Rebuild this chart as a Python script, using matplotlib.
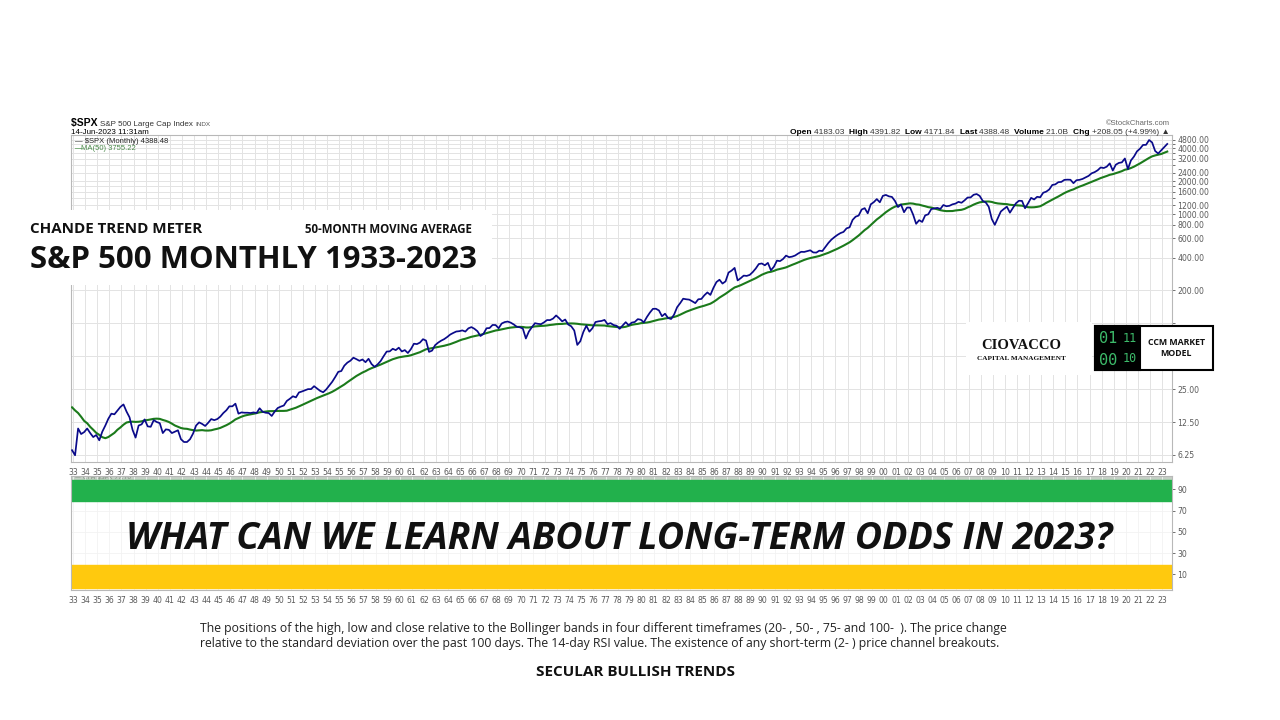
import numpy as np
import pandas as pd
import matplotlib
matplotlib.use("Agg")
import matplotlib.pyplot as plt
from matplotlib.patches import Rectangle
from matplotlib.ticker import FixedLocator, FixedFormatter

# quarterly closes (Mar, Jun, Sep, Dec), Dec 1928 .. Jun 2023
# the 1928-1932 part is only there so the 50-month average has history
spx_1928_1932 = [24.35,
                 25.3, 29.2, 29.9, 21.45,
                 25.1, 20.5, 21.0, 15.3,
                 18.0, 14.8, 9.7, 8.1,
                 7.3, 4.4, 8.1, 6.9]
spx_1933_1949 = [6.2, 10.9, 9.7, 10.1,
                 10.9, 9.9, 9.1, 9.5,
                 8.5, 10.2, 11.6, 13.4,
                 14.9, 14.7, 15.9, 17.2,
                 18.1, 15.6, 13.8, 10.6,
                 9.0, 11.6, 11.9, 13.2,
                 11.4, 11.3, 13.0, 12.5,
                 12.2, 9.9, 10.7, 10.6,
                 9.9, 10.2, 10.5, 8.7,
                 8.2, 8.2, 8.7, 9.8,
                 11.6, 12.4, 12.0, 11.5,
                 12.3, 13.3, 13.0, 13.3,
                 14.0, 15.1, 16.0, 17.4,
                 17.4, 18.4, 14.9, 15.3,
                 15.2, 15.2, 15.1, 15.3,
                 15.1, 16.7, 15.5, 15.2,
                 15.1, 14.2, 15.6, 16.8]
spx_1950_1969 = [17.3, 17.7, 19.5, 20.4,
                 21.5, 21.0, 23.3, 23.8,
                 24.4, 25.0, 25.0, 26.6,
                 25.3, 24.1, 23.4, 24.8,
                 26.9, 29.2, 32.3, 36.0,
                 36.6, 41.0, 43.7, 45.5,
                 48.5, 47.0, 45.4, 46.7,
                 44.1, 47.4, 42.4, 40.0,
                 42.1, 45.2, 50.1, 55.2,
                 55.4, 58.5, 56.9, 59.9,
                 55.3, 56.9, 53.5, 58.1,
                 65.1, 64.6, 66.7, 71.6,
                 69.6, 54.8, 56.3, 63.1,
                 66.6, 69.4, 71.7, 75.0,
                 79.0, 81.7, 84.2, 84.8,
                 86.2, 84.1, 90.0, 92.4,
                 89.2, 84.7, 76.6, 80.3,
                 90.2, 90.6, 96.7, 96.5,
                 90.2, 99.6, 102.7, 103.9,
                 101.5, 97.7, 93.1, 92.1]
spx_1970_1989 = [89.6, 72.7, 84.2, 92.2,
                 100.3, 99.0, 98.3, 102.1,
                 107.2, 107.1, 110.6, 118.1,
                 111.5, 104.3, 108.4, 97.6,
                 94.0, 86.0, 63.5, 68.6,
                 83.4, 95.2, 83.9, 90.2,
                 102.8, 104.3, 105.2, 107.5,
                 98.4, 100.5, 96.5, 95.1,
                 89.2, 95.5, 102.5, 96.1,
                 101.6, 102.9, 109.3, 107.9,
                 102.1, 114.2, 125.5, 135.8,
                 136.0, 131.2, 116.2, 122.6,
                 112.0, 109.6, 120.4, 140.6,
                 153.0, 168.1, 166.1, 164.9,
                 159.2, 153.2, 166.1, 167.2,
                 180.7, 191.9, 182.1, 211.3,
                 238.9, 250.8, 231.3, 242.2,
                 291.7, 304.0, 321.8, 247.1,
                 258.9, 273.5, 271.9, 277.7,
                 294.9, 318.0, 349.2, 353.4]
spx_1990_2009 = [339.9, 358.0, 306.1, 330.2,
                 375.2, 371.2, 387.9, 417.1,
                 403.7, 408.1, 417.8, 435.7,
                 451.7, 450.5, 458.9, 466.5,
                 445.8, 444.3, 462.7, 459.3,
                 500.7, 544.8, 584.4, 615.9,
                 645.5, 670.6, 687.3, 740.7,
                 757.1, 885.1, 947.3, 970.4,
                 1101.8, 1133.8, 1017.0, 1229.2,
                 1286.4, 1372.7, 1282.7, 1469.3,
                 1498.6, 1454.6, 1436.5, 1320.3,
                 1160.3, 1224.4, 1040.9, 1148.1,
                 1147.4, 989.8, 815.3, 879.8,
                 848.2, 974.5, 996.0, 1111.9,
                 1126.2, 1140.8, 1114.6, 1211.9,
                 1180.6, 1191.3, 1228.8, 1248.3,
                 1294.9, 1270.2, 1335.9, 1418.3,
                 1420.9, 1503.4, 1526.8, 1468.4,
                 1322.7, 1280.0, 1166.4, 903.3,
                 797.9, 919.3, 1057.1, 1115.1]
spx_2010_2023 = [1169.4, 1030.7, 1141.2, 1257.6,
                 1325.8, 1320.6, 1131.4, 1257.6,
                 1408.5, 1362.2, 1440.7, 1426.2,
                 1569.2, 1606.3, 1681.6, 1848.4,
                 1872.3, 1960.2, 1972.3, 2058.9,
                 2067.9, 2063.1, 1920.0, 2043.9,
                 2059.7, 2098.9, 2168.3, 2238.8,
                 2362.7, 2423.4, 2519.4, 2673.6,
                 2640.9, 2718.4, 2914.0, 2506.9,
                 2834.4, 2941.8, 2976.7, 3230.8,
                 2584.6, 3100.3, 3363.0, 3756.1,
                 3972.9, 4297.5, 4307.5, 4766.2,
                 4530.4, 3785.4, 3585.6, 3839.5,
                 4109.3, 4388.5]

price_ticks = [6.25, 12.5, 25, 50, 100, 200, 400, 600, 800, 1000, 1200, 1400,
               1600, 1800, 2000, 2400, 2800, 3200, 3600, 4000, 4400, 4800]
price_labels = [6.25, 12.5, 25, 200, 400, 600, 800, 1000, 1200, 1600, 2000,
                2400, 3200, 4000, 4800]
ctm_ticks = [10, 30, 50, 70, 90]
years = list(range(1933, 2024))
year_labels = [f"{y % 100:02d}" for y in years]

spx = np.array(spx_1928_1932 + spx_1933_1949 + spx_1950_1969 + spx_1970_1989
               + spx_1990_2009 + spx_2010_2023)
dates = pd.date_range("1928-12-01", periods=len(spx), freq="3MS")
t = dates.year + (dates.month - 1) / 12
ma50 = pd.Series(spx).rolling(17).mean().values   # 17 quarters ~ 50 months
show = t >= 1932.8

### figure ###
W, H = 1280, 720
fig = plt.figure(figsize=(12.8, 7.2), dpi=100)
fig.patch.set_facecolor("white")


def fx(x):
    return x / W


def fy(y):
    return 1 - y / H


grid_c = "#e3e3e3"
lab_c = "#5a5a5a"
xlim = (1932.83, 2023.81)

ax = fig.add_axes([fx(71), fy(462), fx(1172 - 71), (462 - 135) / H])
ax.set_yscale("log")
ax.plot(t[show], ma50[show], color="#1b7a1b", lw=1.5, zorder=3)
ax.plot(t[show], spx[show], color="#0a0a8a", lw=1.25, zorder=4)
ax.set_xlim(*xlim)
ax.set_ylim(5.38, 5300)
ax.yaxis.tick_right()
ax.yaxis.set_major_locator(FixedLocator(price_ticks))
ax.yaxis.set_major_formatter(FixedFormatter(
    [f"{v:.2f}" if v in price_labels else "" for v in price_ticks]))
ax.yaxis.set_minor_locator(FixedLocator([]))
ax.xaxis.set_major_locator(FixedLocator(years))
ax.set_xticklabels(year_labels)
ax.tick_params(axis="both", labelsize=5.6, colors=lab_c, length=2, width=0.6, pad=2)
ax.tick_params(axis="x", length=0, pad=4)
ax.grid(True, color=grid_c, lw=0.7)
for s in ax.spines.values():
    s.set_color("#b8b8b8")
    s.set_linewidth(0.8)

# lower panel (CTM)
ax2 = fig.add_axes([fx(71), fy(590), fx(1172 - 71), (590 - 476) / H])
ax2.set_xlim(*xlim)
ax2.set_ylim(-4.7, 102.6)
ax2.yaxis.tick_right()
ax2.yaxis.set_major_locator(FixedLocator(ctm_ticks))
ax2.xaxis.set_major_locator(FixedLocator(years))
ax2.set_xticklabels(year_labels)
ax2.tick_params(axis="both", labelsize=5.6, colors=lab_c, length=2, width=0.6, pad=2)
ax2.tick_params(axis="x", length=0, pad=4)
ax2.grid(True, color="#f2f2f2", lw=0.6)
for s in ax2.spines.values():
    s.set_color("#b8b8b8")
    s.set_linewidth(0.8)
ax2.axhspan(98.8, 102.6, color="#c5cfc5", zorder=1)
ax2.text(1933.2, 99.0, "\u2014 CTM $SPX 77.70", fontsize=4.2, color="#7a8a7a",
         va="bottom", zorder=1.5, clip_on=True)
ax2.axhspan(79, 98.8, color="#22b14c", zorder=2)
ax2.axhspan(-2.8, 18.8, color="#ffc90e", zorder=2)

### stockcharts header ###
fig.canvas.draw()
rend = fig.canvas.get_renderer()


def run_left(x, y, pieces, **kw):
    # place text pieces one after another, left to right
    for txt, style in pieces:
        tt = fig.text(fx(x), fy(y), txt, family=["Liberation Sans", "DejaVu Sans"],
                      **style, **kw)
        x += tt.get_window_extent(renderer=rend).width


run_left(71, 126, [("$SPX ", dict(fontsize=7.5, fontweight="bold")),
                   ("S&P 500 Large Cap Index ", dict(fontsize=5.8, color="#333333")),
                   ("INDX", dict(fontsize=4.6, color="#555555"))])
fig.text(fx(71), fy(134), "14-Jun-2023 11:31am", fontsize=5.8, family="Liberation Sans")
fig.text(fx(1170), fy(125), "\u00a9StockCharts.com", fontsize=5.5, color="#666666",
         family="Liberation Sans", ha="right")

pieces = [("Open ", True), ("4183.03  ", False), ("High ", True), ("4391.82  ", False),
          ("Low ", True), ("4171.84  ", False), ("Last ", True), ("4388.48  ", False),
          ("Volume ", True), ("21.0B  ", False), ("Chg ", True),
          ("+208.05 (+4.99%) \u25b2", False)]
# lay out right to left so the line ends at the right edge
xr = 1170
for txt, bold in reversed(pieces):
    tt = fig.text(fx(xr), fy(134), txt, fontsize=6, ha="right",
                  fontweight="bold" if bold else "normal",
                  family=["Liberation Sans", "DejaVu Sans"],
                  color="black" if bold else "#333333")
    xr -= tt.get_window_extent(renderer=rend).width

fig.text(fx(75), fy(143), "\u2014 $SPX (Monthly) 4388.48", fontsize=5.5,
         family="Liberation Sans", color="#222222")
fig.text(fx(75), fy(150), "\u2014", fontsize=5.5, family="Liberation Sans", color="#1b7a1b")
fig.text(fx(81), fy(150), "MA(50) 3755.22", fontsize=5.5, family="Liberation Sans",
         color="#4a8a4a")

### overlays ###
def box(x0, y0, x1, y1, **kw):
    r = Rectangle((fx(x0), fy(y1)), fx(x1 - x0), (y1 - y0) / H,
                  transform=fig.transFigure, **kw)
    fig.add_artist(r)
    return r


box(15, 210, 492, 285, facecolor="white", edgecolor="none", zorder=2)
fig.text(fx(30), fy(233), "CHANDE TREND METER", fontsize=10.9, fontweight="bold",
         family="Open Sans", color="#111111", zorder=3)
fig.text(fx(305), fy(233), "50-MONTH MOVING AVERAGE", fontsize=8.3, fontweight="bold",
         family="Open Sans", color="#111111", zorder=3)
fig.text(fx(30), fy(268), "S&P 500 MONTHLY 1933-2023", fontsize=22.4, fontweight="bold",
         family="Open Sans", color="#111111", zorder=3)

box(966, 322, 1092, 375, facecolor="white", edgecolor="none", zorder=2)
fig.text(fx(1021), fy(349), "CIOVACCO", fontsize=10.5, fontweight="bold",
         family="Liberation Serif", ha="center", color="#111111", zorder=3)
fig.text(fx(1021), fy(360), "CAPITAL MANAGEMENT", fontsize=5.2, fontweight="bold",
         family="Liberation Serif", ha="center", color="#111111", zorder=3)

box(1095, 326, 1213, 370, facecolor="white", edgecolor="black", lw=1.5, zorder=2)
box(1095, 326, 1140, 370, facecolor="black", edgecolor="black", lw=1.5, zorder=2)
for txt, x, y, fs in [("01", 1108, 343, 11), ("11", 1130, 342, 8.5),
                      ("00", 1108, 365, 11), ("10", 1130, 362, 8.5)]:
    fig.text(fx(x), fy(y), txt, fontsize=fs, family="DejaVu Sans Mono", ha="center",
             color="#3dbb6a", zorder=3)
fig.text(fx(1176), fy(345), "CCM MARKET", fontsize=6.3, fontweight="bold",
         family="Open Sans", ha="center", color="#111111", zorder=3)
fig.text(fx(1176), fy(356), "MODEL", fontsize=6.3, fontweight="bold",
         family="Open Sans", ha="center", color="#111111", zorder=3)

fig.text(fx(619), fy(539), "WHAT CAN WE LEARN ABOUT LONG-TERM ODDS IN 2023?",
         fontsize=27, fontweight="bold", style="italic", family="Open Sans",
         ha="center", va="center", color="#111111", zorder=3)

fig.text(fx(200), fy(632), "The positions of the high, low and close relative to the Bollinger "
         "bands in four different timeframes (20- , 50- , 75- and 100-  ). The price change",
         fontsize=8.8, family="Open Sans", color="#222222")
fig.text(fx(200), fy(647), "relative to the standard deviation over the past 100 days. The "
         "14-day RSI value. The existence of any short-term (2- ) price channel breakouts.",
         fontsize=8.8, family="Open Sans", color="#222222")
fig.text(fx(636), fy(676), "SECULAR BULLISH TRENDS", fontsize=11, fontweight="bold",
         family="Open Sans", ha="center", color="#111111")

fig.savefig("out.png", dpi=100)
